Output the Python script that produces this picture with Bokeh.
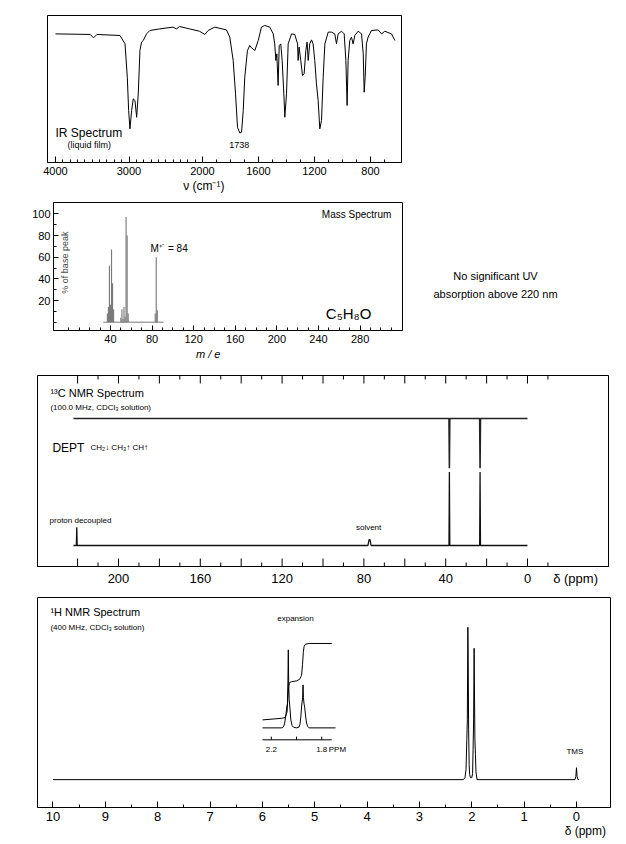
import numpy as np
from bokeh.plotting import figure
from bokeh.layouts import row
from bokeh.models import Range1d, FixedTicker, Label, LinearAxis
from bokeh.embed import file_html
from bokeh.resources import INLINE

FONT = "Liberation Sans"

# ---------------- IR data (wavenumber cm-1, %T) ----------------
ir_wavenumber = [4000, 3527, 3482, 3437, 3122, 3054, 3023, 3005, 2987, 2964, 2942, 2919, 2896, 2874,
                 2851, 2829, 2806, 2761, 2716, 2581, 2401, 2356, 2311, 2176, 2041, 1983, 1960, 1912,
                 1829, 1805, 1781, 1764, 1750, 1733, 1721, 1709, 1698, 1679, 1662, 1650, 1626, 1602,
                 1579, 1555, 1519, 1495, 1484, 1476, 1469, 1460, 1452, 1441, 1431, 1419, 1412, 1400,
                 1388, 1364, 1341, 1321, 1317, 1310, 1298, 1286, 1274, 1262, 1253, 1245, 1234, 1221,
                 1210, 1198, 1186, 1174, 1162, 1150, 1138, 1126, 1102, 1079, 1055, 1043, 1031, 1007,
                 988, 976, 967, 960, 948, 936, 924, 912, 888, 864, 852, 845, 838, 829, 817, 793, 745,
                 721, 698, 650, 626]
ir_transmittance = [87.5, 87.1, 84.8, 87.1, 86.4, 80.7, 58.0, 35.4, 22.9, 35.4, 43.3, 42.2, 30.8, 46.7,
                    76.2, 81.9, 83.0, 87.5, 89.8, 90.9, 92.1, 90.9, 92.5, 90.9, 89.3, 87.1, 89.8, 92.1,
                    90.2, 85.3, 69.4, 46.7, 24.0, 20.0, 20.6, 35.4, 58.0, 76.2, 79.6, 78.0, 76.2, 83.0,
                    92.1, 93.2, 92.1, 87.5, 80.7, 69.4, 73.9, 52.4, 79.6, 80.7, 69.4, 46.7, 30.8, 46.7,
                    80.7, 87.5, 87.1, 80.7, 69.4, 78.5, 69.4, 59.2, 60.3, 76.2, 81.9, 69.4, 80.7, 83.4,
                    80.7, 69.4, 53.5, 42.2, 22.9, 28.6, 58.0, 80.7, 88.7, 88.7, 87.5, 80.7, 87.5, 89.3,
                    87.5, 69.4, 38.8, 69.4, 83.0, 85.3, 80.7, 86.4, 89.3, 87.5, 73.9, 47.8, 58.0, 80.7,
                    85.3, 89.8, 90.2, 87.5, 89.3, 87.5, 83.0]
ir_major_ticks = [4000, 3000, 2000, 1600, 1200, 800]
ir_minor_ticks = [w for w in range(3900, 600, -100) if w not in ir_major_ticks]
ir_carbonyl = 1738

# ---------------- Mass spectrum ----------------
ms_mz = [37, 38, 39, 40, 41, 42, 43, 50, 51, 52, 53, 54, 55, 56, 57, 83, 84, 85]
ms_rel = [8, 14, 52, 16, 67, 36, 12, 4, 12, 3, 14, 5, 97, 80, 8, 8, 60, 11]
ms_baseline_mz = [33, 91]
ms_x_ticks = [40, 80, 120, 160, 200, 240, 280]
ms_x_minor = [m for m in range(0, 320, 10) if m not in ms_x_ticks]
ms_y_ticks = [20, 40, 60, 80, 100]
ms_y_minor = [0, 10, 30, 50, 70, 90]
ms_molecular_ion = 84

# ---------------- 13C NMR ----------------
c13_ppm = [222, 220.6, 220.4, 220.2, 78.0, 77.5, 77.0, 76.5, 38.4, 38.2, 38.0, 23.4, 23.2, 23.0, 0]
c13_int = [0, 0, 9.5, 0, 0, 3, 3, 0, 0, 38.5, 0, 0, 38.5, 0, 0]
dept_ppm = [222, 38.4, 38.2, 38.0, 23.4, 23.2, 23.0, 0]
dept_int = [0, 0, -26, 0, 0, -26, 0, 0]
c13_major = list(range(220, -1, -20))
c13_minor = list(range(210, -11, -20))
c13_labels = [200, 160, 120, 80, 40, 0]

# ---------------- 1H NMR ----------------
h_ppm = [10.0, 2.16, 2.13, 2.11, 2.095, 2.085, 2.075, 2.068, 2.06, 2.05, 2.04, 2.025, 2.0, 1.985,
         1.975, 1.965, 1.955, 1.947, 1.94, 1.93, 1.92, 1.90, 0.03, 0.012, 0.0, -0.012, -0.03, -0.05]
h_int = [0, 0, 2, 10, 40, 60, 153, 120, 50, 15, 5, 2, 2, 6,
         30, 60, 132, 80, 40, 25, 8, 0, 0, 3, 12, 3, 0, 0]
h_major = list(range(0, 11))
h_minor = [i + 0.5 for i in range(0, 10)]

ins_ppm = [2.27, 2.12, 2.105, 2.095, 2.085, 2.078, 2.072, 2.068, 2.065, 2.062, 2.058, 2.052, 2.045,
           2.035, 2.025, 2.0, 1.98, 1.972, 1.965, 1.958, 1.952, 1.948, 1.945, 1.94, 1.935, 1.928,
           1.92, 1.912, 1.90, 1.69]
ins_int = [0, 0, 1, 5, 15, 25, 30, 60, 98, 55, 35, 25, 10, 3, 1, 0, 1, 5, 15, 30, 36, 54, 38, 30, 26,
           15, 6, 2, 0, 0]
integ_ppm = [2.27, 2.12, 2.09, 2.075, 2.068, 2.062, 2.055, 2.04, 2.0, 1.975, 1.96, 1.952, 1.946,
             1.94, 1.93, 1.90, 1.72]
integ_val = [10, 12, 13, 20, 40, 52, 57, 58, 59, 61, 66, 80, 95, 102, 105, 106, 106]
ins_axis_ppm = [2.27, 1.72]
ins_ticks = [2.2, 2.0, 1.8]
ins_tick_labels = [2.2, 1.8]


# ---------------- helpers ----------------
def make_fig(w, h, left, right, top, bottom, xr, yr, yaxis=False, xaxis=True):
    p = figure(width=w, height=h,
               min_border_left=left, min_border_right=right,
               min_border_top=top, min_border_bottom=bottom,
               x_range=xr, y_range=yr,
               output_backend="svg", toolbar_location=None, tools="",
               x_axis_location="below" if xaxis else None,
               y_axis_location="left" if yaxis else None)
    p.grid.visible = False
    p.outline_line_color = "black"
    p.outline_line_width = 1
    p.border_fill_color = "white"
    p.background_fill_color = "white"
    return p


def style_axis(ax, size, standoff, tin=6, tmin=3):
    ax.axis_line_color = "black"
    ax.axis_line_width = 1
    ax.major_tick_line_color = "black"
    ax.minor_tick_line_color = "black"
    ax.major_tick_in = tin
    ax.major_tick_out = 0
    ax.minor_tick_in = tmin
    ax.minor_tick_out = 0
    ax.major_label_text_font = FONT
    ax.major_label_text_font_size = size
    ax.major_label_text_color = "black"
    ax.major_label_standoff = standoff


def text_axis(p, x, text, size, standoff, style="normal"):
    """A tick-less extra axis below the frame that carries one text at data x."""
    ax = LinearAxis(ticker=FixedTicker(ticks=[x], minor_ticks=[]),
                    major_label_overrides={x: text})
    ax.axis_line_color = None
    ax.major_tick_line_color = None
    ax.minor_tick_line_color = None
    ax.major_tick_in = 0
    ax.major_tick_out = 0
    ax.major_label_text_font = FONT
    ax.major_label_text_font_size = size
    ax.major_label_text_font_style = style
    ax.major_label_text_color = "black"
    ax.major_label_standoff = standoff
    p.add_layout(ax, "below")


def label(p, x, y, text, size, align="left", baseline="middle", style="normal",
          color="black", angle=0.0, xr="default", yr="default"):
    p.add_layout(Label(x=x, y=y, text=text, text_font=FONT, text_font_size=size,
                       text_align=align, text_baseline=baseline, text_font_style=style,
                       text_color=color, angle=angle, x_range_name=xr, y_range_name=yr))


PAGE_W = 626

# ---------------- IR panel ----------------
IR_HI = 0.0735   # px per cm-1 above 2000
IR_LO = 0.14     # px per cm-1 below 2000


def ir_u(w):
    w = np.asarray(w, dtype=float)
    return np.where(w >= 2000, (4000 - w) * IR_HI, 2000 * IR_HI + (2000 - w) * IR_LO)


ir = make_fig(PAGE_W, 196, 47, PAGE_W - 47 - 354, 15, 34, Range1d(-8, 346), Range1d(0, 100))
ir.line(ir_u(ir_wavenumber), ir_transmittance, line_color="black", line_width=1)
ir_tick_u = [float(v) for v in ir_u(ir_major_ticks)]
ax = ir.xaxis[0]
ax.ticker = FixedTicker(ticks=ir_tick_u, minor_ticks=[float(v) for v in ir_u(ir_minor_ticks)])
ax.major_label_overrides = {u: str(w) for u, w in zip(ir_tick_u, ir_major_ticks)}
style_axis(ax, "11px", 4, 6, 3)
text_axis(ir, 150.0, "ν  (cm⁻¹)", "12px", 1)
label(ir, 0, 20.4, "IR Spectrum", "12px")
label(ir, 12, 11.6, "(liquid film)", "9px")
label(ir, float(ir_u(ir_carbonyl)), 11.6, str(ir_carbonyl), "9px", align="center")

# ---------------- Mass spectrum panel ----------------
MS_W = 406
ms = make_fig(MS_W, 170, 53, 4, 6, 36, Range1d(-14.8, 320.8), Range1d(-7.66, 110.5), yaxis=True)
ms.vbar(x=ms_mz, top=ms_rel, bottom=0, width=1.1, fill_color="#7a7a7a", line_color=None)
ms.line(ms_baseline_mz, [0, 0], line_color="#7a7a7a", line_width=1)
style_axis(ms.xaxis[0], "11px", 4, 5, 3)
ms.xaxis[0].ticker = FixedTicker(ticks=ms_x_ticks, minor_ticks=ms_x_minor)
style_axis(ms.yaxis[0], "11px", 3, 5, 3)
ms.yaxis[0].ticker = FixedTicker(ticks=ms_y_ticks, minor_ticks=ms_y_minor)
text_axis(ms, 134.0, "m / e", "11px", 2, style="italic")
label(ms, 310, 99.4, "Mass Spectrum", "10px", align="right")
label(ms, 78.5, 68, "M⁺˙ = " + str(ms_molecular_ion), "10px")
label(ms, 269, 8, "C₅H₈O", "15px", align="center")
label(ms, -3.3, 55, "% of base peak", "9px", align="center", color="#444", angle=np.pi / 2)

# UV note beside the mass spectrum (same frame height, 1 unit = 1 px)
UV_W = PAGE_W - MS_W
uv = make_fig(UV_W, 170, 0, 0, 6, 36, Range1d(0, UV_W), Range1d(0, 128), xaxis=False)
uv.outline_line_color = None
label(uv, 89, 55, "No significant UV", "11px", align="center")
label(uv, 89, 37, "absorption above 220 nm", "11px", align="center")

# ---------------- 13C panel ----------------
C13_BASE = 11.0
DEPT_BASE = 77.5
C13_FH = 191
C13_UNIT = 100.0 / C13_FH        # data units per pixel
c13 = make_fig(PAGE_W, 226, 37, PAGE_W - 37 - 571, 9, 26, Range1d(239.6, -39.6), Range1d(0, 100))
c13.line(c13_ppm, [C13_BASE + v for v in c13_int], line_color="#111", line_width=1.3)
c13.line(dept_ppm, [DEPT_BASE + v for v in dept_int], line_color="#222", line_width=1.6)
# inward tick marks on bottom and top borders
for ticks, length in ((c13_major, 8), (c13_minor, 4)):
    n = len(ticks)
    c13.segment(x0=ticks, y0=[0] * n, x1=ticks, y1=[length * C13_UNIT] * n,
                line_color="black", line_width=1)
    c13.segment(x0=ticks, y0=[100] * n, x1=ticks, y1=[100 - length * C13_UNIT] * n,
                line_color="black", line_width=1)
ax = c13.xaxis[0]
ax.ticker = FixedTicker(ticks=c13_labels + [-23.5], minor_ticks=[])
ax.major_label_overrides = {-23.5: "δ (ppm)"}
style_axis(ax, "13px", 4, 0, 0)
label(c13, 233.3, 90.6, "¹³C NMR Spectrum", "11px")
label(c13, 233.3, 83.2, "(100.0 MHz, CDCl₃ solution)", "8px")
label(c13, 232.3, 62.3, "DEPT", "12px")
label(c13, 213.7, 62.3, "CH₂↓  CH₃↑  CH↑", "8px")
label(c13, 233.7, 24.0, "proton decoupled", "8px")
label(c13, 77.7, 20.4, "solvent", "8px", align="center")

# ---------------- 1H panel ----------------
H_FW, H_FH = 573, 211
h1 = make_fig(PAGE_W, 248, 37, PAGE_W - 37 - H_FW, 5, 32, Range1d(10.296, -0.65), Range1d(-28, 183))
# inset placement (frame pixels) and scale
INS_REF_PPM, INS_REF_PX, INS_PX_PER_PPM = 2.2, 233.8, 126.0
INS_BASE_FROM_TOP, INS_PX_PER_UNIT = 131.0, 0.8
h1.extra_x_ranges = {"ix": Range1d(INS_REF_PPM + INS_REF_PX / INS_PX_PER_PPM,
                                   INS_REF_PPM - (H_FW - INS_REF_PX) / INS_PX_PER_PPM)}
h1.extra_y_ranges = {"iy": Range1d(-(H_FH - INS_BASE_FROM_TOP) / INS_PX_PER_UNIT,
                                   INS_BASE_FROM_TOP / INS_PX_PER_UNIT)}
h1.line(h_ppm, h_int, line_color="black", line_width=1)
h1.line(ins_ppm, ins_int, line_color="black", line_width=1, x_range_name="ix", y_range_name="iy")
h1.line(integ_ppm, integ_val, line_color="black", line_width=1, x_range_name="ix", y_range_name="iy")
h1.line(ins_axis_ppm, [-15, -15], line_color="black", line_width=1, x_range_name="ix", y_range_name="iy")
h1.segment(x0=ins_ticks, y0=[-15] * len(ins_ticks), x1=ins_ticks, y1=[-11] * len(ins_ticks),
           line_color="black", line_width=1, x_range_name="ix", y_range_name="iy")
for t in ins_tick_labels:
    label(h1, t, -27.5, str(t), "8px", align="center", xr="ix", yr="iy")
label(h1, 1.675, -27.5, "PPM", "8px", align="center", xr="ix", yr="iy")
label(h1, 2.008, 137.5, "expansion", "8px", align="center", xr="ix", yr="iy")
ax = h1.xaxis[0]
ax.ticker = FixedTicker(ticks=h_major, minor_ticks=h_minor)
style_axis(ax, "13px", 4, 6, 3)
text_axis(h1, -0.17, "δ (ppm)", "12px", 0)
label(h1, 10.05, 168, "¹H NMR Spectrum", "11px")
label(h1, 10.05, 153, "(400 MHz, CDCl₃ solution)", "8px")
label(h1, 0.03, 28, "TMS", "8px", align="center")

roots = [ir, row(ms, uv), c13, h1]
open("out.html", "w").write(file_html(roots, INLINE, title="Spectra"))
